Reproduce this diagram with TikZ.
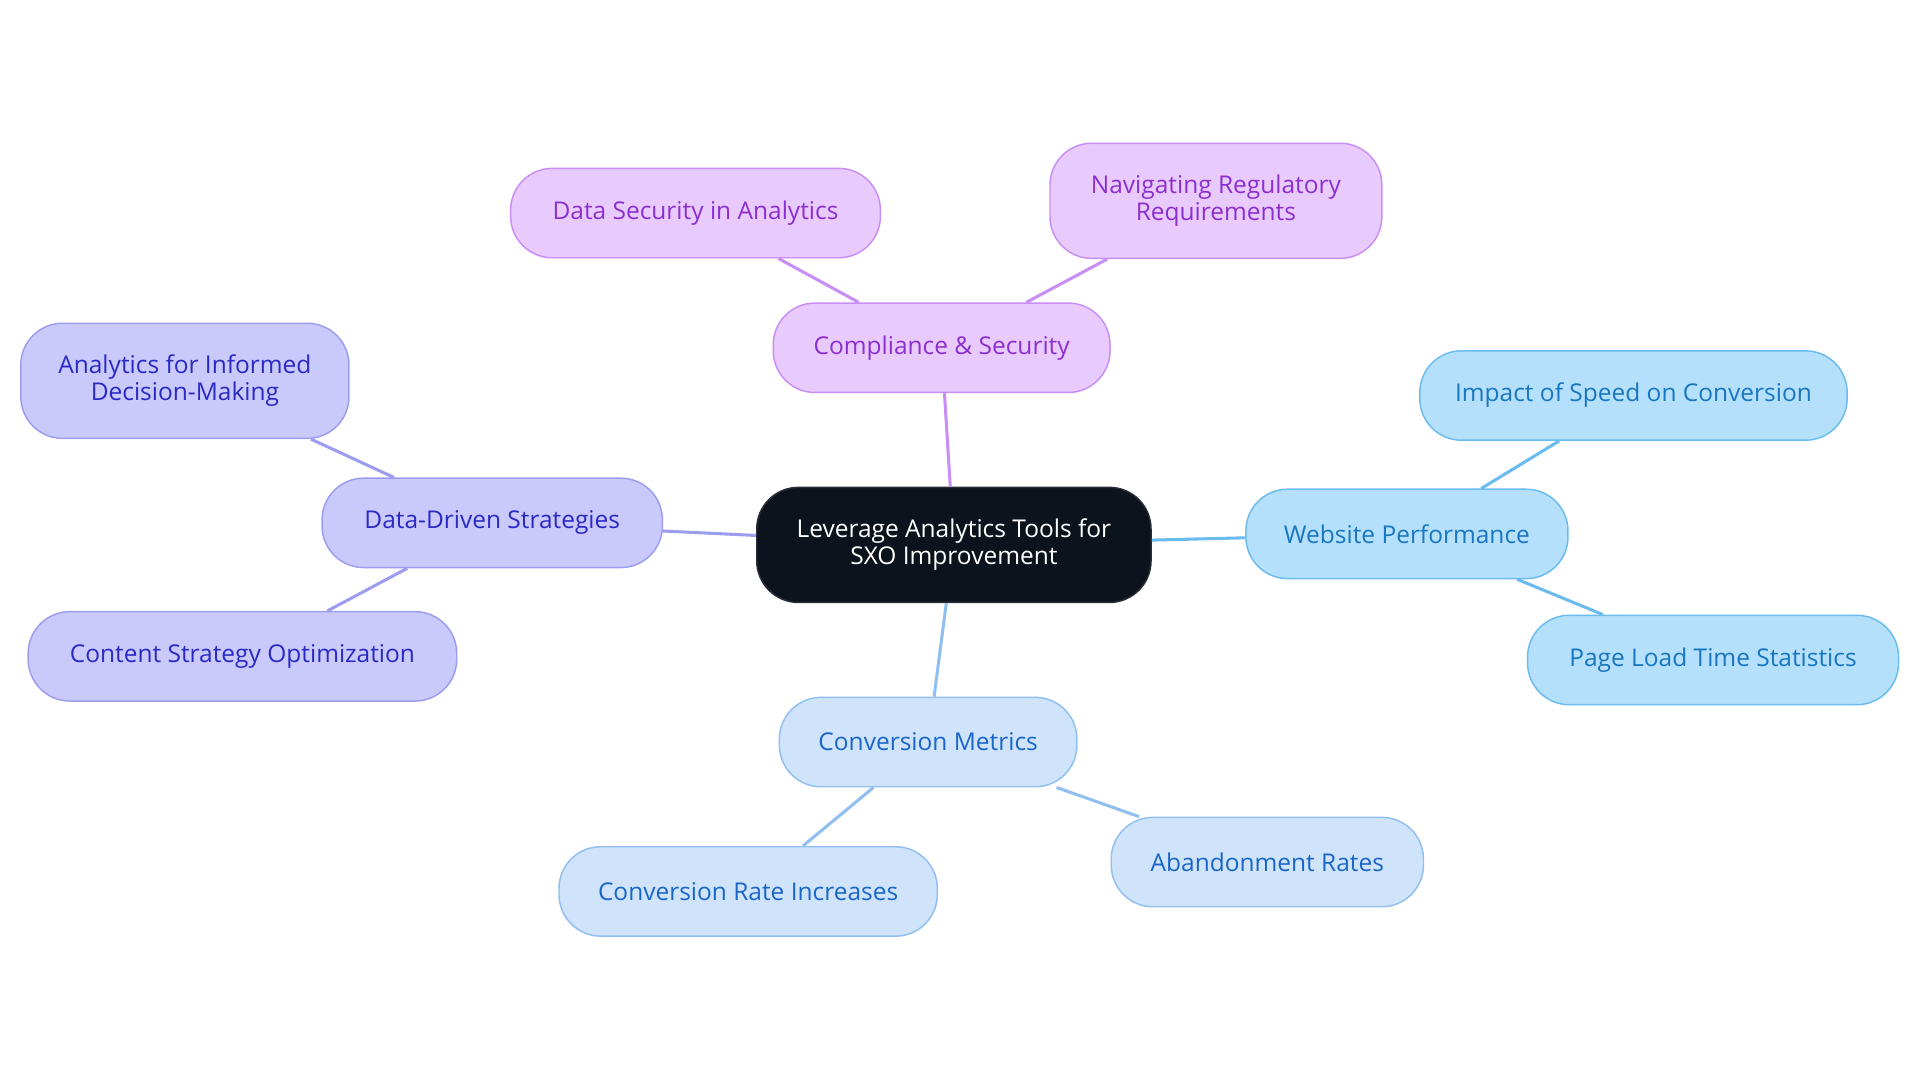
\documentclass[tikz,border=0pt]{standalone}
\usepackage{fontspec}
\setmainfont{Open Sans}
\begin{document}
\begin{tikzpicture}[x=0.5pt,y=-0.5pt,
 base/.style={draw,rounded corners=17pt,line width=0.6pt,align=center,font=\fontsize{10}{11}\selectfont,inner sep=0pt},
 pur/.style={base,fill=purple!0!white,fill={rgb,255:red,232;green,203;blue,252},draw={rgb,255:red,201;green,142;blue,245},text={rgb,255:red,140;green,47;blue,208}},
 ind/.style={base,fill={rgb,255:red,201;green,201;blue,251},draw={rgb,255:red,157;green,157;blue,240},text={rgb,255:red,42;green,42;blue,196}},
 sky/.style={base,fill={rgb,255:red,181;green,224;blue,251},draw={rgb,255:red,107;green,188;blue,238},text={rgb,255:red,25;green,118;blue,192}},
 blu/.style={base,fill={rgb,255:red,207;green,228;blue,251},draw={rgb,255:red,144;green,191;blue,240},text={rgb,255:red,26;green,102;blue,200}},
 ep/.style={line width=1.25pt,draw={rgb,255:red,201;green,142;blue,245}},
 ei/.style={line width=1.25pt,draw={rgb,255:red,157;green,157;blue,240}},
 es/.style={line width=1.25pt,draw={rgb,255:red,107;green,188;blue,238}},
 eb/.style={line width=1.25pt,draw={rgb,255:red,144;green,191;blue,240}}]
\useasboundingbox (0,0) rectangle (1568,884);
\node[base,fill={rgb,255:red,13;green,19;blue,28},draw={rgb,255:red,40;green,45;blue,55},text=white,minimum width=322\pgflinewidth*0+161pt,minimum height=47pt] (c) at (779,445) {Leverage Analytics Tools for\\SXO Improvement};
\node[pur,minimum width=137.5pt,minimum height=36.5pt] (cs) at (769,284) {Compliance \& Security};
\node[pur,minimum width=151pt,minimum height=36.5pt] (ds) at (568,174) {Data Security in Analytics};
\node[pur,minimum width=135.5pt,minimum height=47pt] (nr) at (993,164) {Navigating Regulatory\\Requirements};
\node[ind,minimum width=139pt,minimum height=36.5pt] (dd) at (402,427) {Data-Driven Strategies};
\node[ind,minimum width=134pt,minimum height=47pt] (ai) at (151,311) {Analytics for Informed\\Decision-Making};
\node[ind,minimum width=175pt,minimum height=36.5pt] (co) at (198,536) {Content Strategy Optimization};
\node[sky,minimum width=131.5pt,minimum height=36.5pt] (wp) at (1149,436) {Website Performance};
\node[sky,minimum width=174.5pt,minimum height=36.5pt] (im) at (1334,323) {Impact of Speed on Conversion};
\node[sky,minimum width=151.5pt,minimum height=36.5pt] (pl) at (1399,539) {Page Load Time Statistics};
\node[blu,minimum width=121.5pt,minimum height=36.5pt] (cm) at (758,606) {Conversion Metrics};
\node[blu,minimum width=154.5pt,minimum height=36.5pt] (cr) at (611,728) {Conversion Rate Increases};
\node[blu,minimum width=127.5pt,minimum height=36.5pt] (ab) at (1035,704) {Abandonment Rates};
\begin{scope}[on background layer/.style={}]
\end{scope}
\draw[ep] (c) -- (cs); \draw[ep] (cs) -- (ds); \draw[ep] (cs) -- (nr);
\draw[ei] (c) -- (dd); \draw[ei] (dd) -- (ai); \draw[ei] (dd) -- (co);
\draw[es] (c) -- (wp); \draw[es] (wp) -- (im); \draw[es] (wp) -- (pl);
\draw[eb] (c) -- (cm); \draw[eb] (cm) -- (cr); \draw[eb] (cm) -- (ab);
\end{tikzpicture}
\end{document}
